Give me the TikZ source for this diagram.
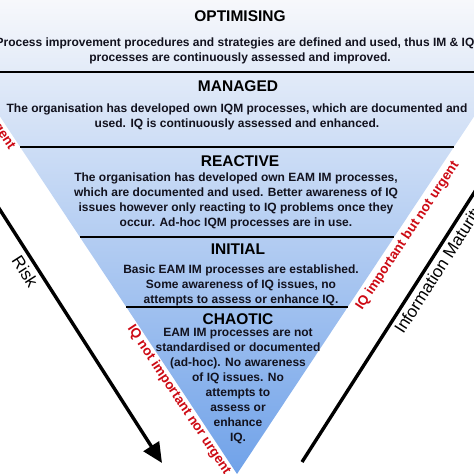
\documentclass[tikz,border=0pt]{standalone}
\usepackage{fontspec}
\setmainfont{Liberation Sans}
\usetikzlibrary{positioning, arrows.meta, calc}

\definecolor{bandtop}{RGB}{247,248,251}
\definecolor{bandmid}{RGB}{198,219,244}
\definecolor{bandbot}{RGB}{112,162,233}
\definecolor{iqred}{RGB}{205,10,20}
\definecolor{bodyink}{RGB}{18,18,30}

\begin{document}
\begin{tikzpicture}[x=1pt, y=-1pt,
      title/.style={font=\fontsize{15.5}{18}\selectfont\bfseries, inner sep=0pt},
      body/.style={font=\fontsize{12}{15}\selectfont\bfseries, align=center, inner sep=0pt, text=bodyink},
      sepline/.style={line width=2.6pt},
      axisline/.style={line width=3.4pt},
      iq/.style={font=\fontsize{13.5}{16}\selectfont\bfseries, text=iqred, sloped, inner sep=1pt},
      axlbl/.style={font=\fontsize{17}{19}\selectfont, sloped, inner sep=2pt}]

    \useasboundingbox (0,0) rectangle (474,474);
    \clip (0,0) rectangle (474,474);

    % the inverted triangle
    \coordinate (tl) at (-77.3,0);
    \coordinate (tr) at (551.3,0);
    \coordinate (apex) at (237,474);
    \shade[top color=bandtop, middle color=bandmid, bottom color=bandbot] (tl) -- (tr) -- (apex) -- cycle;

    \foreach \yy in {72,147,237,307}
      \draw[sepline] ($(tl)!\yy/474!(apex)$) -- ($(tr)!\yy/474!(apex)$);

    % levels
    \node[title] (optimising) at (240,16) {OPTIMISING};
    \node[body] (optimisingtxt) at (240,50.5) {Process improvement procedures and strategies are defined and used, thus IM \& IQM\\ processes are continuously assessed and improved.};

    \node[title] (managed) at (238,86) {MANAGED};
    \node[body] (managedtxt) at (237,116.5) {The organisation has developed own IQM processes, which are documented and\\ used. IQ is continuously assessed and enhanced.};

    \node[title] (reactive) at (240,161) {REACTIVE};
    \node[body] (reactivetxt) at (236,200.5) {The organisation has developed own EAM IM processes,\\ which are documented and used. Better awareness of IQ\\ issues however only reacting to IQ problems once they\\ occur. Ad-hoc IQM processes are in use.};

    \node[title] (initial) at (238,249) {INITIAL};
    \node[body] (initialtxt) at (241,285) {Basic EAM IM processes are established.\\ Some awareness of IQ issues, no\\ attempts to assess or enhance IQ.};

    \node[title] (chaotic) at (238,319) {CHAOTIC};
    \node[body] (chaotictxt) at (238,386.5) {EAM IM processes are not\\ standardised or documented\\ (ad-hoc). No awareness\\ of IQ issues. No\\ attempts to\\ assess or\\ enhance\\ IQ.};

    % side labels along the triangle
    \path (tl) -- node[iq, pos=0.306, below, anchor=north east] (iqurgent) {IQ important and urgent}
                  node[iq, pos=0.835, below] (iqnot) {IQ not important nor urgent} (apex);
    \path (apex) -- node[iq, pos=0.515, below=3pt] (iqbut) {IQ important but not urgent} (tr);

    % axes
    \coordinate (riskstart) at (-30,163);
    \coordinate (risktip) at (162,463);
    \draw[axisline, -{Triangle[length=20pt, width=18pt]}] (riskstart) -- node[axlbl, pos=0.34, below=2pt] (risk) {Risk} (risktip);

    \coordinate (matstart) at (302,462);
    \coordinate (matend) at (520,121);
    \draw[axisline] (matstart) -- node[axlbl, pos=0.585, below=1pt] (maturity) {Information Maturity} (matend);
\end{tikzpicture}
\end{document}
